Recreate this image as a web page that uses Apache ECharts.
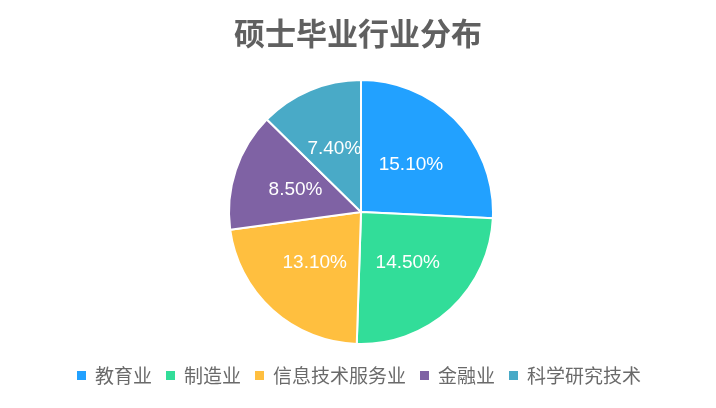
<!DOCTYPE html>
<html><head><meta charset="utf-8">
<script src="https://cdn.jsdelivr.net/npm/echarts@6/dist/echarts.min.js"></script>
<style>html,body{margin:0;padding:0;background:#fff}#c{width:716px;height:408px}</style>
</head><body><div id="c"></div>
<script>
const titleText = '硕士毕业行业分布';
const categories = ['教育业','制造业','信息技术服务业','金融业','科学研究技术'];
const values = [15.10, 14.50, 13.10, 8.50, 7.40];
const colors = ['#22a1ff','#32dd99','#ffbf3f','#7f62a4','#49aac7'];
const font = '"Noto Sans CJK SC", "Noto Sans", sans-serif';
const numFont = '"Liberation Sans", "Noto Sans CJK SC", sans-serif';
const chart = echarts.init(document.getElementById('c'));
chart.setOption({
  color: colors,
  title: {text: titleText, left: 'center', top: 13,
    textStyle: {fontSize: 31, fontWeight: 'bold', color: '#606060', fontFamily: font}},
  legend: {bottom: 18, left: 'center', itemWidth: 11, itemHeight: 11, itemGap: 12, icon: 'rect',
    textStyle: {fontSize: 19, color: '#6a6a6a', fontFamily: font, padding: [0, 0, 0, 3]},
    data: categories},
  series: [{
    type: 'pie', center: [361, 212], radius: 132, startAngle: 90,
    itemStyle: {borderColor: '#fff', borderWidth: 2},
    label: {position: 'inside', color: '#fff', fontSize: 19, fontFamily: numFont,
      formatter: p => p.value.toFixed(2) + '%'},
    labelLine: {show: false},
    data: categories.map((c, i) => ({name: c, value: values[i]}))
  }]
});
</script></body></html>
